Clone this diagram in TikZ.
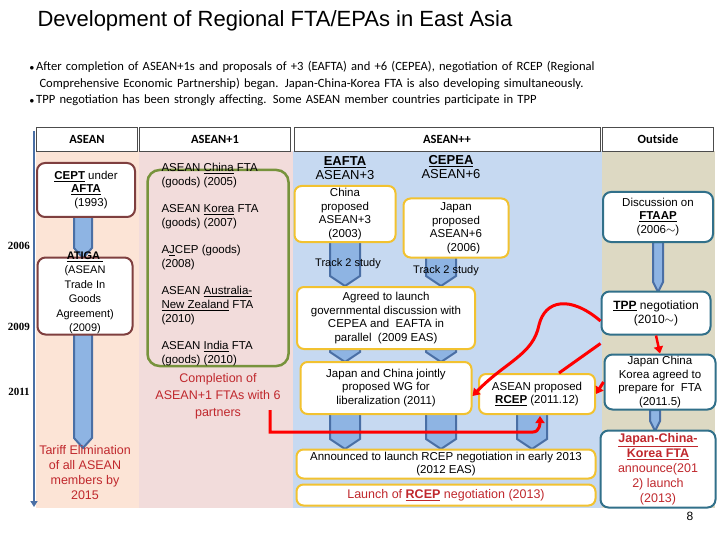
\documentclass[tikz,border=0pt]{standalone}
\usepackage{fontspec}
\setmainfont{Liberation Sans}
\newfontfamily\carfont{Carlito}
\newfontfamily\tms{Liberation Serif}
\usetikzlibrary{arrows.meta}
\definecolor{peach}{HTML}{FCE4D6}
\definecolor{pinkbg}{HTML}{F2DCDB}
\definecolor{bluebg}{HTML}{C6D9F1}
\definecolor{tanbg}{HTML}{DDD9C3}
\definecolor{maroon}{HTML}{7F3F3F}
\definecolor{olive}{HTML}{77933C}
\definecolor{gold}{HTML}{F2C230}
\definecolor{teal}{HTML}{31708A}
\definecolor{barfill}{HTML}{8EB4E3}
\definecolor{barline}{HTML}{4A6FA5}
\definecolor{redt}{HTML}{C0282D}
\newcommand\barrow[4]{\fill[barfill,draw=barline,line width=2pt] (#1-#4,#2)--(#1+#4,#2)--(#1+#4,#3-10)--(#1,#3)--(#1-#4,#3-10)--cycle;}
\begin{document}
\begin{tikzpicture}[x=1pt,y=-1pt,
  hdr/.style={draw=black!70,fill=white,font=\carfont\bfseries\fontsize{12.5}{14}\selectfont},
  mbox/.style={draw=maroon,line width=2pt,rounded corners=8pt,fill=white},
  gbox/.style={draw=gold,line width=2pt,rounded corners=7pt,fill=white},
  tbox/.style={draw=teal,line width=2pt,rounded corners=8pt,fill=white},
  txt/.style={font=\fontsize{11.5}{13.5}\selectfont,align=center},
  redarr/.style={draw=red,line width=3pt,-{Triangle[length=7pt,width=9pt]}}]
\useasboundingbox (0,0) rectangle (720,540);
\fill[white] (0,0) rectangle (720,540);
\node[anchor=west,font=\fontsize{22}{26}\selectfont] (title) at (34,21) {Development of Regional FTA/EPAs in East Asia};
\node[anchor=north west,align=left,font=\carfont\fontsize{12.6}{16.5}\selectfont,text width=690pt] (bul) at (26,58) {%
{\fontsize{9}{9}\selectfont\raisebox{0.5pt}{$\bullet$}}\hspace{2pt}After completion of ASEAN+1s and proposals of +3 (EAFTA) and +6 (CEPEA), negotiation of RCEP (Regional\\
\hspace*{10pt}Comprehensive Economic Partnership) began. Japan-China-Korea FTA is also developing simultaneously.\\
{\fontsize{9}{9}\selectfont\raisebox{0.5pt}{$\bullet$}}\hspace{2pt}TPP negotiation has been strongly affecting. Some ASEAN member countries participate in TPP};
% backgrounds
\fill[peach] (36,151) rectangle (139,508);
\fill[pinkbg] (139,151) rectangle (293,508);
\fill[bluebg] (293,151) rectangle (602,508);
\fill[tanbg] (602,151) rectangle (715,508);
\node[hdr,minimum width=101pt,minimum height=24pt] (h1) at (87,139) {ASEAN};
\node[hdr,minimum width=151pt,minimum height=24pt] (h2) at (215,139) {ASEAN+1};
\node[hdr,minimum width=306pt,minimum height=24pt] (h3) at (447,139) {ASEAN++};
\node[hdr,minimum width=111pt,minimum height=24pt] (h4) at (658,139) {Outside};
% timeline
\draw[barline,line width=2pt,-{Triangle[length=6pt,width=7pt]}] (34,131)--(34,507);
\node[font=\tms\bfseries\fontsize{11}{13}\selectfont] (y1) at (19,246) {2006};
\node[font=\tms\bfseries\fontsize{11}{13}\selectfont] (y2) at (19,327) {2009};
\node[font=\tms\bfseries\fontsize{11}{13}\selectfont] (y3) at (19,392) {2011};
% ASEAN column
\barrow{83}{216}{258}{9}
\barrow{83}{334}{448}{9}
\node[mbox,minimum width=98pt,minimum height=54pt] (cept) at (86,190) {};
\node[txt] (ceptt) at (86,190) {\textbf{\underline{CEPT}} under\\\textbf{\underline{AFTA}}\\\hspace*{10pt}(1993)};
\node[mbox,minimum width=95pt,minimum height=77pt] (atiga) at (85,296) {};
\node[txt,font=\fontsize{11}{14.5}\selectfont] (atigat) at (85,293) {\textbf{\underline{ATIGA }}\\(ASEAN\\Trade In\\Goods\\Agreement)\\(2009)};
\node[txt,text=redt,font=\fontsize{12.5}{15}\selectfont] (tariff) at (85,473) {Tariff Elimination\\of all ASEAN\\members by\\2015};
% ASEAN+1
\node[draw=olive,line width=2.5pt,rounded corners=12pt,minimum width=141pt,minimum height=196pt] (green) at (218,268) {};
\node[anchor=north west,align=left,font=\fontsize{11.5}{14}\selectfont] (plus1) at (158,160) {%
ASEAN \underline{China} FTA\\(goods) (2005)\\[13pt]
ASEAN \underline{Korea} FTA\\(goods) (2007)\\[13pt]
A\underline{J}CEP (goods)\\(2008)\\[13pt]
ASEAN \underline{Australia-}\\\underline{New Zealand} FTA\\(2010)\\[13pt]
ASEAN \underline{India} FTA\\(goods) (2010)};
\node[txt,text=redt,font=\fontsize{12.5}{17}\selectfont] (compl) at (218,396) {Completion of\\ASEAN+1 FTAs with 6\\partners};
% ASEAN++
\node[align=center,font=\fontsize{13}{14}\selectfont] (eafta) at (345,168) {\textbf{\underline{EAFTA}}\\ASEAN+3};
\node[align=center,font=\fontsize{13}{14}\selectfont] (cepea) at (451,167) {\textbf{\underline{CEPEA}}\\ASEAN+6};
\barrow{345}{240}{286}{15}
\barrow{441}{256}{286}{15}
\barrow{345}{349}{362}{15}
\barrow{441}{349}{362}{15}
\barrow{345}{413}{449}{15}
\barrow{441}{413}{449}{15}
\barrow{532}{413}{449}{15}
\node[gbox,minimum width=101pt,minimum height=56pt] (china) at (345,214) {};
\node[txt] (chinat) at (345,214) {China\\proposed\\ASEAN+3\\(2003)};
\node[gbox,minimum width=105pt,minimum height=59pt] (japan) at (456,228) {};
\node[txt] (japant) at (456,228) {Japan\\proposed\\ASEAN+6\\\hspace*{15pt}(2006)};
\node[font=\fontsize{11}{12}\selectfont] (t2a) at (348,264) {Track 2 study};
\node[font=\fontsize{11}{12}\selectfont] (t2b) at (446,271) {Track 2 study};
\node[gbox,minimum width=178pt,minimum height=62pt] (agreed) at (386,318) {};
\node[txt] (agreedt) at (386,318) {Agreed to launch\\governmental discussion with\\CEPEA and\ \ EAFTA in\\parallel\ \ (2009 EAS)};
\node[gbox,minimum width=171pt,minimum height=52pt] (jcwg) at (386,388) {};
\node[txt] (jcwgt) at (386,388) {Japan and China jointly\\proposed WG for\\liberalization (2011)};
\node[gbox,minimum width=116pt,minimum height=40pt] (aprop) at (537,394) {};
\node[txt] (apropt) at (537,394) {ASEAN proposed\\\textbf{\underline{RCEP}} (2011.12)};
\node[gbox,minimum width=299pt,minimum height=29pt] (annc) at (446,464) {};
\node[txt] (annct) at (446,464) {Announced to launch RCEP negotiation in early 2013\\(2012 EAS)};
\node[gbox,minimum width=299pt,minimum height=21pt] (launch) at (446,495) {};
\node[txt,text=redt,font=\fontsize{12.5}{14}\selectfont] (launcht) at (446,495) {Launch of \textbf{\underline{RCEP}} negotiation (2013)};
% Outside
\barrow{658}{242}{292}{5}
\barrow{655}{410}{431}{5}
\node[tbox,minimum width=110pt,minimum height=50pt] (ftaap) at (658,217) {};
\node[txt] (ftaapt) at (658,217) {Discussion on\\\textbf{\underline{FTAAP}}\\(2006$\sim$)};
\node[tbox,minimum width=109pt,minimum height=43pt] (tpp) at (656,313) {};
\node[txt,font=\fontsize{12}{14}\selectfont] (tppt) at (656,313) {\textbf{\underline{TPP}} negotiation\\(2010$\sim$)};
\node[tbox,minimum width=111pt,minimum height=55pt] (jcka) at (660,382) {};
\node[txt] (jckat) at (660,382) {Japan China\\Korea agreed to\\prepare for\ \ FTA\\(2011.5)};
\node[tbox,minimum width=115pt,minimum height=77pt] (jckf) at (658,469) {};
\node[txt,text=redt,font=\fontsize{12.5}{15}\selectfont] (jckft) at (658,469) {\textbf{\underline{Japan-China-}}\\\textbf{\underline{Korea FTA}}\\announce(201\\2) launch\\(2013)};
% red connectors
\draw[redarr] ([yshift=-8pt]tpp.west) .. controls (570,295) and (545,300) .. (539,325) .. controls (533,355) and (505,362) .. ([yshift=-8pt]jcwg.east);
\draw[red,line width=3pt] ([yshift=-8pt]tpp.south west) -- ([xshift=22pt]aprop.north);
\draw[redarr] (jcka.west) -- (aprop.east);
\draw[redarr,line width=2.5pt] (tpp.south) -- (jcka.north);
\coordinate (c1) at (270,410);
\draw[redarr] (c1) -- (270,432) -- (533,432) to[out=0,in=-90] (540,416);
\node[font=\fontsize{12}{14}\selectfont] (pg) at (690,516) {8};
\end{tikzpicture}
\end{document}
